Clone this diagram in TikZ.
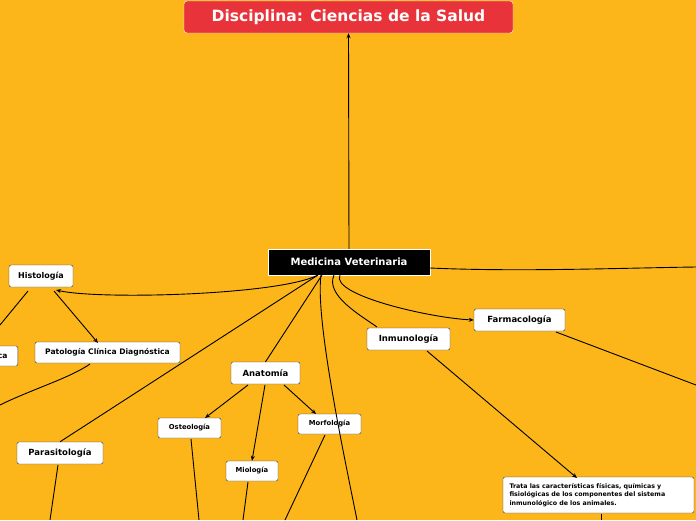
\documentclass[tikz,border=0pt]{standalone}
\usepackage{fontspec}
\setmainfont{DejaVu Sans}
\usetikzlibrary{arrows.meta}
\definecolor{bg}{HTML}{FDB619}
\definecolor{tred}{HTML}{E8333A}
\begin{document}
\begin{tikzpicture}[x=1pt,y=-1pt,
 box/.style={draw=black!80,fill=white,rounded corners=2pt,font=\bfseries\fontsize{7.6}{9}\selectfont,inner sep=0pt},
 con/.style={line width=0.9pt},
 arr/.style={con,-{Stealth[length=5pt,width=4pt]}}]
\fill[bg] (0,0) rectangle (696,520);
\useasboundingbox (0,0) rectangle (696,520);
\node[draw=white,fill=tred,rounded corners=3pt,text=white,font=\bfseries\fontsize{15.5}{17}\selectfont,minimum width=329pt,minimum height=32pt,inner sep=0pt] (title) at (348.5,17) {Disciplina: Ciencias de la Salud};
\node[draw=white,fill=black,text=white,font=\bfseries\fontsize{10}{11}\selectfont,minimum width=162pt,minimum height=26pt,inner sep=0pt] (mv) at (349,262) {Medicina Veterinaria};
\node[box,minimum width=64pt,minimum height=22pt,font=\bfseries\fontsize{8}{9}\selectfont] (his) at (41,276) {Histología};
\node[box,minimum width=145pt,minimum height=21pt] (pat) at (107.5,352.5) {Patología Clínica Diagnóstica};
\node[box,minimum width=30pt,minimum height=20pt,anchor=east,inner sep=2pt,align=right] (cli) at (18,356) {\hfill ca};
\node[box,minimum width=86pt,minimum height=22pt,font=\bfseries\fontsize{8.5}{10}\selectfont] (par) at (60,453) {Parasitología};
\node[box,minimum width=69pt,minimum height=22pt,font=\bfseries\fontsize{8.5}{10}\selectfont] (ana) at (265.5,373) {Anatomía};
\node[box,minimum width=63pt,minimum height=20pt,font=\bfseries\fontsize{6.8}{8}\selectfont] (ost) at (189.5,428) {Osteología};
\node[box,minimum width=52pt,minimum height=20pt,font=\bfseries\fontsize{6.8}{8}\selectfont] (mio) at (252,471) {Miología};
\node[box,minimum width=63pt,minimum height=20pt,font=\bfseries\fontsize{6.8}{8}\selectfont] (mor) at (329.5,424) {Morfología};
\node[box,minimum width=83pt,minimum height=22pt,font=\bfseries\fontsize{8.5}{10}\selectfont] (inm) at (408.5,339) {Inmunología};
\node[box,minimum width=91pt,minimum height=22pt,font=\bfseries\fontsize{8.5}{10}\selectfont] (far) at (519.5,320) {Farmacología};
\node[box,minimum width=191pt,minimum height=36pt,font=\bfseries\fontsize{6.3}{8.4}\selectfont,align=left,text width=178pt] (txt) at (598.5,495) {Trata las características físicas, químicas y\\ fisiológicas de los componentes del sistema\\ inmunológico de los animales.};
\coordinate (e1) at (696,267);
\coordinate (e2) at (0,325);
\coordinate (e3) at (0,405);
\coordinate (e4) at (50,520);
\coordinate (e5) at (199,520);
\coordinate (e6) at (243,520);
\coordinate (e7) at (285,520);
\coordinate (e8) at (357,520);
\coordinate (e9) at (696,385);
\coordinate (e10) at (601,520);
\draw[arr] (mv.north) -- (title.south);
\draw[con] (mv.east) ++(0,6) .. controls (520,272) and (620,268) .. (e1);
\draw[arr] (318,275) .. controls (280,295) and (100,300) .. (56,290);
\draw[arr] (54,291) -- (98,343);
\draw[con] (28,291) -- (e2);
\draw[con] (90,364) .. controls (70,378) and (30,390) .. (e3);
\draw[con] (318,275) -- (par.north);
\draw[con] (58,465) -- (e4);
\draw[con] (322,275) -- (ana.north);
\draw[arr] (248,385) -- (205,418);
\draw[arr] (265,385) -- (mio.north);
\draw[arr] (284,385) -- (316,414);
\draw[con] (191,439) -- (e5);
\draw[con] (248,482) -- (e6);
\draw[con] (325,435) -- (e7);
\draw[con] (321,275) .. controls (315,320) and (345,460) .. (e8);
\draw[con] (334,275) .. controls (325,295) and (360,315) .. (377,327);
\draw[arr] (340,275) .. controls (330,295) and (430,318) .. (far.west);
\draw[arr] (427,351) -- (577,478);
\draw[con] (556,332) -- (e9);
\draw[con] (601,514) -- (e10);
\end{tikzpicture}
\end{document}
